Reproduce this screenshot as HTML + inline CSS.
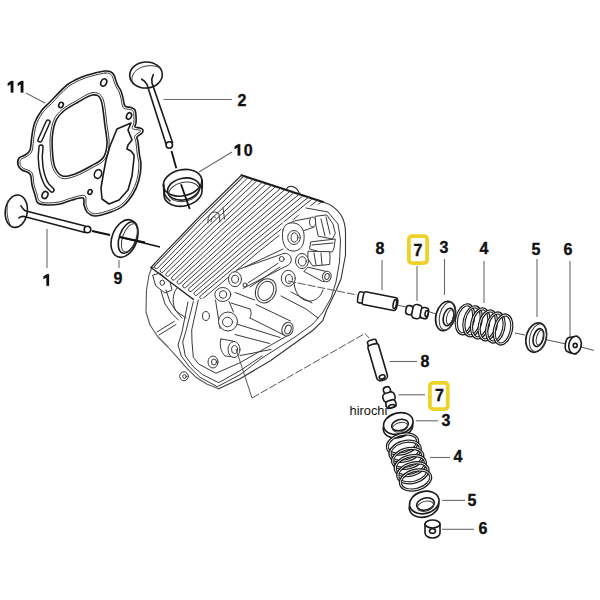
<!DOCTYPE html>
<html><head><meta charset="utf-8">
<style>
html,body{margin:0;padding:0;background:#fff;width:600px;height:600px;overflow:hidden}
svg{display:block}
.lb{font-family:"Liberation Sans",sans-serif;font-weight:bold;font-size:16px;fill:#111;stroke:#111;stroke-width:0.35;text-anchor:middle}
.ld{stroke:#6a6a6a;stroke-width:1.1;fill:none}
.k{stroke:#1a1a1a;stroke-width:1.6;fill:none;stroke-linejoin:round;stroke-linecap:round}
.kf{stroke:#1a1a1a;stroke-width:1.6;fill:#fff;stroke-linejoin:round;stroke-linecap:round}
.t{stroke:#3a3a3a;stroke-width:1;fill:none;stroke-linejoin:round;stroke-linecap:round}
.tf{stroke:#3a3a3a;stroke-width:1;fill:#fff;stroke-linejoin:round;stroke-linecap:round}
.ax{stroke:#555;stroke-width:1;fill:none}
.coil{stroke:#1a1a1a;stroke-width:3.2;fill:none}
.coilw{stroke:#fff;stroke-width:0.9;fill:none}
</style></head>
<body>
<svg width="600" height="600" viewBox="0 0 600 600">
<!-- labels -->
<g class="lb">
<text x="242" y="105.6">2</text>
<text x="248.3" y="156.0">0</text>
<text x="118" y="284.4">9</text>
<text x="380" y="254.4">8</text>
<text x="418" y="255.6">7</text>
<text x="444" y="253.4">3</text>
<text x="484" y="254.4">4</text>
<text x="536" y="255.4">5</text>
<text x="568" y="255.4">6</text>
<text x="425" y="367.4">8</text>
<text x="439.5" y="401.2">7</text>
<text x="446" y="426.4">3</text>
<text x="458" y="462.4">4</text>
<text x="472" y="506.4">5</text>
<text x="483" y="534.4">6</text>
</g>
<path d="M10.80 92.50 L10.80 84.20 L7.80 85.80 L7.80 83.30 L11.10 81.00 L13.30 81.00 L13.30 92.50Z M20.80 92.50 L20.80 84.20 L17.80 85.80 L17.80 83.30 L21.10 81.00 L23.30 81.00 L23.30 92.50Z M46.50 285.80 L46.50 277.40 L43.50 279.00 L43.50 276.50 L46.80 274.20 L49.00 274.20 L49.00 285.80Z M237.70 155.50 L237.70 147.50 L234.70 149.10 L234.70 146.60 L238.00 144.30 L240.20 144.30 L240.20 155.50Z" fill="#111" stroke="#111" stroke-width="0.3" stroke-linejoin="round"/>
<!-- leaders -->
<g class="ld">
<path d="M26 93L45 103"/>
<path d="M163.5 99.5H232"/>
<path d="M199 172L232 152"/>
<path d="M47 229V268"/>
<path d="M119 260V268"/>
<path d="M382 260V290"/>
<path d="M417 266V301"/>
<path d="M444.5 259V295"/>
<path d="M484 261V303"/>
<path d="M537 259V317"/>
<path d="M570 261V337"/>
<path d="M389.5 361.5H417"/>
<path d="M398.5 394.8H425"/>
<path d="M415.8 420.8H438"/>
<path d="M430 457.5H450"/>
<path d="M442 500.4H465"/>
<path d="M442 529.3H474"/>
</g>
<!-- yellow boxes -->
<rect x="408.9" y="236.1" width="18.2" height="27" rx="3" fill="none" stroke="#efd228" stroke-width="3.8"/>
<rect x="429.9" y="382.9" width="17.9" height="26.2" rx="3" fill="none" stroke="#efd228" stroke-width="3.8"/>

<!-- gasket 11 -->
<g class="k">
<path d="M105.0 71.0 C107.5 70.8 108.5 70.8 110.0 71.5 C111.5 72.2 113.0 73.4 114.0 75.0 C115.0 76.6 115.3 79.2 116.0 81.0 C116.7 82.8 117.2 84.3 118.0 86.0 C118.8 87.7 120.2 89.0 121.0 91.0 C121.8 93.0 122.3 95.5 123.0 98.0 C123.7 100.5 123.7 104.4 125.0 106.0 C126.3 107.6 129.3 106.8 131.0 107.5 C132.7 108.2 134.2 108.6 135.0 110.0 C135.8 111.4 135.8 113.8 136.0 116.0 C136.2 118.2 136.2 121.2 136.0 123.0 C135.8 124.8 134.3 126.2 135.0 127.0 C135.7 127.8 138.7 127.5 140.0 128.0 C141.3 128.5 142.7 129.2 143.0 130.0 C143.3 130.8 143.0 131.8 142.0 133.0 C141.0 134.2 137.7 135.5 137.0 137.0 C136.3 138.5 137.6 139.0 138.0 142.0 C138.4 145.0 139.0 151.2 139.5 155.0 C140.0 158.8 141.1 160.8 141.0 165.0 C140.9 169.2 140.3 175.2 139.0 180.0 C137.7 184.8 135.7 189.7 133.0 194.0 C130.3 198.3 126.7 203.0 123.0 206.0 C119.3 209.0 115.7 210.3 111.0 212.0 C106.3 213.7 99.0 216.0 95.0 216.0 C91.0 216.0 88.8 213.8 87.0 212.0 C85.2 210.2 84.7 207.3 84.0 205.0 C83.3 202.7 85.0 198.8 83.0 198.0 C81.0 197.2 75.8 199.0 72.0 200.0 C68.2 201.0 64.0 203.2 60.0 204.0 C56.0 204.8 51.7 205.2 48.0 205.0 C44.3 204.8 40.2 204.7 38.0 203.0 C35.8 201.3 36.0 198.0 35.0 195.0 C34.0 192.0 32.8 188.5 32.0 185.0 C31.2 181.5 31.7 176.5 30.0 174.0 C28.3 171.5 24.0 171.5 22.0 170.0 C20.0 168.5 18.5 167.0 18.0 165.0 C17.5 163.0 17.8 159.7 19.0 158.0 C20.2 156.3 23.2 156.3 25.0 155.0 C26.8 153.7 28.8 153.3 30.0 150.0 C31.2 146.7 31.2 139.7 32.0 135.0 C32.8 130.3 33.3 126.2 35.0 122.0 C36.7 117.8 39.5 113.3 42.0 110.0 C44.5 106.7 45.8 106.2 50.0 102.0 C54.2 97.8 61.7 89.2 67.0 85.0 C72.3 80.8 77.3 79.0 82.0 77.0 C86.7 75.0 91.2 74.0 95.0 73.0 C98.8 72.0 102.5 71.2 105.0 71.0Z"/>
<path class="t" d="M105.1 73.1 C107.4 72.9 107.9 73.0 109.1 73.5 C110.3 74.0 111.4 74.8 112.2 76.2 C113.0 77.6 113.4 79.9 114.0 81.7 C114.7 83.5 115.3 85.2 116.1 86.9 C117.0 88.6 118.2 89.9 119.1 91.8 C119.9 93.8 120.3 95.9 121.0 98.5 C121.7 101.2 121.7 105.9 123.3 107.7 C124.8 109.6 128.5 108.9 130.2 109.5 C131.8 110.0 132.5 110.2 133.1 111.3 C133.7 112.4 133.8 114.3 133.9 116.2 C134.0 118.1 134.1 120.7 133.9 122.7 C133.7 124.8 131.5 127.4 132.4 128.6 C133.3 129.8 137.8 129.6 139.2 130.0 C140.5 130.3 140.3 130.6 140.5 130.9 C140.7 131.2 141.2 130.9 140.2 131.7 C139.2 132.6 135.4 134.4 134.7 136.2 C134.0 137.9 135.5 139.1 135.9 142.3 C136.4 145.5 136.9 151.5 137.4 155.3 C137.9 159.1 139.0 161.0 138.9 165.0 C138.8 169.0 138.2 174.8 137.0 179.4 C135.7 184.1 133.7 188.7 131.2 192.9 C128.6 197.0 125.2 201.5 121.7 204.3 C118.2 207.2 114.7 208.4 110.3 210.0 C105.9 211.6 98.9 213.7 95.2 213.8 C91.6 213.8 90.2 212.0 88.6 210.5 C87.1 208.9 86.7 206.9 86.0 204.4 C85.4 201.9 87.2 196.6 84.8 195.5 C82.3 194.5 75.7 196.9 71.5 198.0 C67.3 199.0 63.5 201.1 59.6 201.9 C55.7 202.7 51.5 203.0 48.1 202.9 C44.8 202.8 41.4 202.6 39.6 201.2 C37.7 199.7 37.9 197.1 37.0 194.3 C36.1 191.6 34.9 188.1 34.0 184.5 C33.2 180.9 33.7 175.3 31.9 172.6 C30.1 169.9 25.3 169.7 23.4 168.3 C21.4 167.0 20.6 165.9 20.2 164.4 C19.8 162.9 19.9 160.7 20.9 159.4 C21.9 158.1 24.4 158.1 26.2 156.7 C28.1 155.3 30.7 154.5 32.0 151.0 C33.3 147.4 33.2 140.1 34.1 135.4 C34.9 130.7 35.4 126.8 37.0 122.8 C38.6 118.8 41.3 114.5 43.7 111.3 C46.1 108.1 47.4 107.6 51.5 103.5 C55.6 99.4 63.0 90.8 68.3 86.7 C73.5 82.6 78.3 80.9 82.8 78.9 C87.4 77.0 91.8 76.0 95.5 75.0 C99.2 74.1 102.8 73.4 105.1 73.1Z"/>
<path d="M92.5 95.0 C96.4 94.6 98.9 94.8 101.0 100.0 C103.1 105.2 104.0 118.7 105.0 126.0 C106.0 133.3 107.3 138.7 107.0 144.0 C106.7 149.3 105.7 154.3 103.0 158.0 C100.3 161.7 95.7 163.3 91.0 166.0 C86.3 168.7 79.8 172.3 75.0 174.0 C70.2 175.7 65.8 177.1 62.5 176.0 C59.2 174.9 56.7 171.4 55.0 167.5 C53.3 163.6 52.9 157.9 52.5 152.5 C52.1 147.1 51.9 140.4 52.5 135.0 C53.1 129.6 54.4 124.0 56.2 120.0 C58.1 116.0 60.2 113.9 63.8 111.0 C67.3 108.1 72.7 105.2 77.5 102.5 C82.3 99.8 88.6 95.4 92.5 95.0Z"/>
<path class="t" d="M92.6 92.6 C97.0 92.3 100.5 93.2 102.9 98.7 C105.3 104.2 106.0 118.1 107.1 125.7 C108.1 133.3 109.5 138.6 109.1 144.2 C108.8 149.8 107.7 155.4 104.8 159.3 C102.0 163.3 96.9 165.0 92.1 167.8 C87.2 170.6 80.7 174.3 75.7 176.0 C70.6 177.8 65.5 179.5 61.7 178.3 C57.9 177.0 54.9 172.7 53.0 168.4 C51.1 164.2 50.8 158.3 50.4 152.7 C50.0 147.1 49.7 140.3 50.4 134.7 C51.1 129.1 52.3 123.2 54.3 119.0 C56.3 114.8 58.7 112.5 62.4 109.4 C66.0 106.3 71.4 103.5 76.5 100.7 C81.5 97.9 88.2 92.9 92.6 92.6Z"/>
<path d="M131.0 123.0 L117.0 129.0 L110.0 146.0 L106.0 160.0 L103.0 176.0 L101.0 188.0 L102.0 199.0 L109.0 204.0 L119.0 200.0 L128.0 190.0 L132.0 176.0 L134.0 158.0 L134.0 155.0 L131.0 151.0 L127.0 149.0 L128.0 145.0 L132.0 140.0 L130.0 135.0 L128.0 130.0Z"/>
<ellipse cx="103.75" cy="82.5" rx="2.8" ry="3.8" transform="rotate(25 103.75 82.5)"/>
<ellipse cx="61" cy="105" rx="2.2" ry="2.8" transform="rotate(25 61 105)"/>
<ellipse cx="129" cy="116" rx="2.4" ry="3.4" transform="rotate(25 129 116)"/>
<ellipse cx="98" cy="174" rx="3.5" ry="4.5" transform="rotate(25 98 174)"/>
<ellipse cx="90" cy="192" rx="2" ry="2.5" transform="rotate(25 90 192)"/>
<ellipse cx="45" cy="195" rx="2.8" ry="3.6" transform="rotate(25 45 195)"/>
</g>
<path d="M48 122L40 140" stroke="#1a1a1a" stroke-width="5.5" stroke-linecap="round" fill="none"/><path d="M48 122L40 140" stroke="#fff" stroke-width="2.6" stroke-linecap="round" fill="none"/>
<path d="M41 147C39 160 41 175 47 185L52 190" stroke="#1a1a1a" stroke-width="5.5" stroke-linecap="round" fill="none"/><path d="M41 147C39 160 41 175 47 185L52 190" stroke="#fff" stroke-width="2.6" stroke-linecap="round" fill="none"/>
<!-- valve 1 -->
<g class="k">
<ellipse cx="16.3" cy="211.2" rx="11" ry="16.3" transform="rotate(8 16.3 211.2)"/>
<path d="M21 205.8C23 209 24.5 210.5 26 211L85 226"/>
<path d="M18.8 217.8C21 216.2 23.5 216 26 217L85 232.5"/>
<circle class="kf" cx="87.5" cy="229.5" r="3.3"/>
</g>
<path class="t" d="M8 201C6 210 7 220 11 226"/>
<path d="M92 231L110 235" stroke="#111" stroke-width="1.8"/>
<path d="M119.6 237L160 247" stroke="#111" stroke-width="1.8"/>
<!-- ring 9 -->
<g class="k">
<ellipse cx="124.5" cy="238.5" rx="12.5" ry="19.5" transform="rotate(20 124.5 238.5)"/>
<ellipse cx="128" cy="237.5" rx="8.5" ry="16.5" transform="rotate(20 128 237.5)"/>
</g>
<ellipse class="t" cx="129.5" cy="237.8" rx="6.8" ry="14.8" transform="rotate(20 129.5 237.8)"/>
<path d="M119.6 237L145 242.5" stroke="#111" stroke-width="1.8"/>

<!-- valve 2 -->
<g class="k">
<ellipse cx="146" cy="75" rx="16.3" ry="13" transform="rotate(-3 146 75)"/>
<path d="M141.7 79.2C144 80.5 146 82 147 84.5L166 144"/>
<path d="M153.3 74.6C152 77 151.5 80 152 83L172.5 142.5"/>
<circle class="kf" cx="169.3" cy="145" r="3.2"/>
</g>
<path class="t" d="M132 81C131 74 136 68 146 66C152 65 157 66 160 68"/>
<path d="M171.5 151L176.3 168.3" stroke="#111" stroke-width="1.8"/>
<!-- ring 10 -->
<g class="k">
<ellipse class="kf" cx="183" cy="192.5" rx="19.3" ry="13.5" transform="rotate(-12 183 192.5)"/>
<path d="M163.6 184.5L163.8 192M202.2 180L202.3 188" />
<ellipse class="kf" cx="182.6" cy="182.8" rx="19.5" ry="13" transform="rotate(-12 182.6 182.8)"/>
<path d="M164 185C163 191 165 197 170 201" fill="none"/>
<ellipse cx="183.7" cy="189" rx="16.3" ry="10.8" transform="rotate(-12 183.7 189)"/>
</g>
<ellipse class="t" cx="184" cy="191.8" rx="15.3" ry="9.5" transform="rotate(-12 184 191.8)"/>
<path d="M181 184.3L189.7 209" stroke="#111" stroke-width="1.8"/>

<!-- cylinder head -->
<g class="k">
<path d="M241.5 175.3L323 202" stroke-width="2.1"/>
<path d="M286.5 189.5C288 185 296 184.5 299.5 193.5" stroke-width="1.1"/>
<path d="M323 202C330 204 337 209 341 215C344 220 345.5 226 345.5 233L345.5 255L341 279L334.5 294L326.7 310L322.7 320.7L313.3 330L270 361L240 378.7L218.7 388.7" stroke-width="1.1" stroke="#333"/>
<path d="M218.7 388.7L206.7 384L196 377.3L185.3 366.7L177.3 357.3L168 347L158 337L150 325L146 312L146.5 290L149 275L152.5 266" stroke="#555" stroke-width="1.1"/>
<path d="M241.5 175.3Q194.8 220.0 151.0 267.5" stroke="#333" stroke-width="1.2"/>
<path d="M243.0 176.5Q196.5 221.0 152.8 268.3" stroke="#555" stroke-width="0.9"/>
<path d="M151 267.5L193.5 299.5" stroke-width="1.3"/>
</g>
<g class="t">
<path d="M306 208L328 212L338 224L340.5 240L339.5 262L336 282L331 298L323 312L313 324L295 337L262 358L240 374.7L217.3 386.7L200 377.3L189.3 366.7L181.3 356L178 345L182 332L188 302"/>
<path d="M193.3 301.7L185.8 331.7L182.7 342L185.3 356L193.3 366.7L202.7 374.7L218.7 382.7L240 370.7L262 356"/>
<path d="M198.3 300L191.7 330L192 342L193.3 357.3L198.7 364L216 373.3L240 362.7L292 333"/>
</g>
<clipPath id="topface"><path d="M238 172L323 199L322 204L305 207L296 219L283 222L278 240L281 249L252 262L240 270L225 282L215 290L205 298L195 301L149 270Z"/></clipPath>
<path class="t" clip-path="url(#topface)" d="M244.8 175.5Q198.4 219.2 154.8 265.8A1.9 1.9 0 0 0 157.4 268.4Q201.0 221.9 247.4 178.1 M254.0 178.5Q205.8 222.6 160.4 269.6A1.9 1.9 0 0 0 163.0 272.2Q208.4 225.3 256.5 181.2 M263.1 181.5Q213.3 226.0 166.1 273.4A1.9 1.9 0 0 0 168.6 276.1Q215.8 228.7 265.7 184.2 M272.3 184.6Q220.7 229.4 171.8 277.2A1.9 1.9 0 0 0 174.3 279.9Q223.2 232.1 274.8 187.3 M281.5 187.6Q228.1 232.8 177.4 281.0A1.9 1.9 0 0 0 179.9 283.7Q230.6 235.5 284.0 190.3 M290.7 190.6Q235.6 236.2 183.1 284.8A1.9 1.9 0 0 0 185.5 287.6Q238.0 239.0 293.1 193.4 M299.9 193.6Q243.0 239.6 188.8 288.6A1.9 1.9 0 0 0 191.2 291.4Q245.4 242.4 302.3 196.4 M309.1 196.6Q250.5 243.0 194.4 292.4A1.9 1.9 0 0 0 196.8 295.2Q252.8 245.8 311.4 199.5 M318.2 199.7Q257.9 246.4 200.1 296.2A1.9 1.9 0 0 0 202.4 299.0Q260.2 249.2 320.6 202.5"/>
<!-- head interior -->
<g class="t">
<!-- boss A + tube -->
<path d="M286 225L294.2 221L311.2 217.7M300 232L314 227"/>
<path class="tf" d="M283 230C281 240 284 250 292 251C301 252 305 244 304 234C303 226 297 222 290 223C286 224 284 226 283 230Z"/>
<ellipse cx="294" cy="237.5" rx="6.3" ry="7"/>
<ellipse cx="294.5" cy="237.5" rx="3.4" ry="4.6"/>
<ellipse class="tf" cx="312.7" cy="222" rx="3.2" ry="5"/>
<!-- mechanism -->
<path class="tf" d="M315.5 216.3L326.8 214.9L333 224L335.3 233.3L332.5 239L318.3 236.2L316 226Z"/>
<path d="M321 219L325 236M326 217L330 234"/>
<path class="tf" d="M311.2 241.8L335.3 239L334 248L332.5 251.7L324 253.2L309.8 249Z"/>
<path d="M312 245L333 243"/>
<path class="tf" d="M308.4 251.3L329.7 251.7L330 258L329.7 264.5L312.7 266L308 259Z"/>
<path d="M314 253L316 265M321 253L322 265"/>
<!-- boss B + tube -->
<path class="tf" d="M308.4 267.3L326.8 271.6L327 281L322.6 281.5L304.2 271.6Z"/>
<ellipse class="tf" cx="302" cy="261" rx="6.5" ry="7.5"/>
<ellipse cx="302.3" cy="261.3" rx="4" ry="4.6"/>
<ellipse class="tf" cx="326.8" cy="276.5" rx="4.3" ry="5.3" transform="rotate(15 326.8 276.5)"/>
<ellipse cx="327" cy="276.5" rx="2.2" ry="3" transform="rotate(15 327 276.5)"/>
<!-- slot bar -->
<path d="M236.7 270L281.7 254.2A5.5 5.5 0 0 1 288.3 265L243.3 288.3"/>
<path d="M248 283L278 263.3M250 287L280 267"/>
<path d="M245 267L283 249"/>
<ellipse class="tf" cx="235" cy="279.2" rx="6.5" ry="7.5"/>
<ellipse cx="235" cy="279.2" rx="3.5" ry="4"/>
<circle cx="245" cy="285" r="2"/>
<circle cx="281.7" cy="259" r="2.5"/>
<!-- big oval -->
<ellipse cx="265.8" cy="290.8" rx="10" ry="12.5" transform="rotate(25 265.8 290.8)"/>
<ellipse cx="265.8" cy="290.8" rx="7.5" ry="10" transform="rotate(25 265.8 290.8)"/>
<!-- boss E -->
<ellipse class="tf" cx="288.3" cy="278.3" rx="7" ry="8"/>
<ellipse cx="289" cy="279" rx="3.5" ry="4.5"/>
<path d="M294 283C295 295 303 302 311 301C317 300 321 296 323 290"/>
<path d="M281 296L306 309L318 318M291 292L312 303"/>
<!-- hole F + tube -->
<path d="M235 292.5L254.5 300M231 303L250 309"/>
<ellipse class="tf" cx="222.8" cy="294.5" rx="8" ry="7"/>
<ellipse cx="223" cy="294.5" rx="3.6" ry="3.8"/>
<!-- big cylinder H -->
<path d="M256 304.5L290.5 321M250 318L283 334.5M250 309C252 312 251 316 250 318"/>
<ellipse class="tf" cx="287.5" cy="329.2" rx="5.5" ry="7" transform="rotate(20 287.5 329.2)"/>
<ellipse cx="288" cy="329.5" rx="3" ry="4.5" transform="rotate(20 288 329.5)"/>
<path d="M236.5 324L280 337.5M235 334.5L269.5 343.5"/>
<!-- arm & boss G -->
<path d="M215.5 300L220 328.5M229 301.5L233.5 312"/>
<ellipse class="tf" cx="228" cy="321.5" rx="9.5" ry="9.5"/>
<ellipse cx="227.5" cy="322" rx="5" ry="4.8"/>
<!-- lower boss -->
<path class="tf" d="M221 339L233 341L236 357L225 356C221 352 219 345 221 339Z"/>
<ellipse class="tf" cx="234" cy="349.5" rx="6" ry="8"/>
<ellipse cx="234.5" cy="349.5" rx="3" ry="4"/>
<path d="M240 355.5C250 354 262 351 271 349.5"/>
<!-- bolts -->
<ellipse class="tf" cx="213" cy="362" rx="5" ry="6"/>
<ellipse cx="214" cy="362" rx="2.5" ry="3"/>
<ellipse class="tf" cx="184" cy="376.3" rx="4.3" ry="4.5"/>
<circle cx="184.5" cy="376.5" r="1.8"/>
<ellipse class="tf" cx="206" cy="316" rx="3.5" ry="4.5"/>
<path d="M153 275L160 273L170 282L172 290L165 293L156 286Z"/>
<ellipse cx="162.3" cy="282.7" rx="2.3" ry="2.6"/>
<path d="M161 291L165 304L171.7 313.3L178.3 320M166 290L170 302L176 311L182 318"/>
<path d="M177 288C172 294 172 304 176 311L186 318"/>
<path d="M157 332L174.3 321.3M159 335L176 324.5"/>
<!-- fin bump -->
<path d="M208 223C207 214 214 209 219 214L220 222M211 222C211 217 214 215 216 218"/>
<path d="M223 208L224.5 219"/>
</g>


<!-- axis lines right -->
<g class="ax">
<path d="M288 281L357 295" stroke-dasharray="8 2"/>
<path d="M397 305L406 307"/>
<path d="M428.5 311.5L436 314"/>
<path d="M515 333L525 335"/>
<path d="M546 339.7L566 344"/>
<path d="M580 346.8L594 350.4"/>
<path d="M236 349L252 398"/><path d="M252 398L365 333.5L369 338" stroke-dasharray="8 2"/>
</g>

<!-- part 8 upper -->
<g class="kf" transform="translate(358.5 297) rotate(11)">
<path d="M6 -5.5L1 -5.5A1.6 5.5 0 0 0 1 5.5L6 5.5"/>
<path d="M6 -6.5L37 -6.5A2.6 6.5 0 0 1 37 6.5L6 6.5A1.6 6.5 0 0 1 6 -6.5Z"/>
<ellipse cx="37" cy="0" rx="1.6" ry="4.5"/>
</g>
<!-- part 7 upper -->
<g class="kf" transform="translate(406 309.5) rotate(11)">
<rect x="0" y="-4.5" width="7" height="9" rx="3"/>
<rect x="6.5" y="-7" width="9" height="14" rx="3.5"/>
<rect x="15" y="-5.5" width="7.5" height="11" rx="3"/>
<ellipse cx="21" cy="0" rx="1.5" ry="3"/>
</g>
<!-- part 3 upper -->
<g class="kf">
<ellipse cx="445.5" cy="316" rx="9.5" ry="15" transform="rotate(15 445.5 316)"/>
<ellipse cx="447.5" cy="316" rx="7.8" ry="14.2" transform="rotate(15 447.5 316)" class="t"/>
<ellipse cx="448.5" cy="317" rx="5" ry="9" transform="rotate(15 448.5 317)"/>
<ellipse cx="450" cy="317" rx="3.2" ry="7.5" transform="rotate(15 450 317)" class="t"/>
</g>
<!-- spring 4 upper -->
<g>
<ellipse class="coil" cx="465.0" cy="319.3" rx="8.3" ry="14.8" transform="rotate(13 465.0 319.3)"/>
<ellipse class="coilw" cx="465.0" cy="319.3" rx="8.3" ry="14.8" transform="rotate(13 465.0 319.3)"/>
<ellipse class="coil" cx="472.6" cy="321.3" rx="8.3" ry="14.8" transform="rotate(13 472.6 321.3)"/>
<ellipse class="coilw" cx="472.6" cy="321.3" rx="8.3" ry="14.8" transform="rotate(13 472.6 321.3)"/>
<ellipse class="coil" cx="480.2" cy="323.4" rx="8.3" ry="14.8" transform="rotate(13 480.2 323.4)"/>
<ellipse class="coilw" cx="480.2" cy="323.4" rx="8.3" ry="14.8" transform="rotate(13 480.2 323.4)"/>
<ellipse class="coil" cx="487.8" cy="325.4" rx="8.3" ry="14.8" transform="rotate(13 487.8 325.4)"/>
<ellipse class="coilw" cx="487.8" cy="325.4" rx="8.3" ry="14.8" transform="rotate(13 487.8 325.4)"/>
<ellipse class="coil" cx="495.4" cy="327.5" rx="8.3" ry="14.8" transform="rotate(13 495.4 327.5)"/>
<ellipse class="coilw" cx="495.4" cy="327.5" rx="8.3" ry="14.8" transform="rotate(13 495.4 327.5)"/>
<ellipse class="coil" cx="503.0" cy="329.5" rx="8.3" ry="14.8" transform="rotate(13 503.0 329.5)"/>
<ellipse class="coilw" cx="503.0" cy="329.5" rx="8.3" ry="14.8" transform="rotate(13 503.0 329.5)"/>
</g>
<!-- part 5 upper -->
<g class="kf">
<ellipse cx="536.2" cy="337.6" rx="10" ry="15" transform="rotate(15 536.2 337.6)"/>
<ellipse cx="538" cy="337.6" rx="8.2" ry="14.2" transform="rotate(15 538 337.6)" class="t"/>
<ellipse cx="538.4" cy="337.6" rx="5" ry="9.2" transform="rotate(15 538.4 337.6)"/>
<ellipse cx="539.8" cy="337.6" rx="3.2" ry="7.6" transform="rotate(15 539.8 337.6)" class="t"/>
</g>
<!-- part 6 upper -->
<g class="kf">
<path d="M577.3 336.2L568.8 337.5C565 339 564.5 348 566 350.5C567 352 570 353 576 354"/>
<ellipse cx="575" cy="345" rx="6.2" ry="8.8" transform="rotate(10 575 345)"/>
<circle cx="575.2" cy="345.4" r="2"/>
</g>
<!-- part 8 lower -->
<g class="kf" transform="translate(371.5 340.5) rotate(-16.3)">
<path d="M-4.5 6L-4.5 1A4.5 1.6 0 0 1 4.5 1L4.5 6"/>
<path d="M-5.5 6L-5.5 38A5.5 3.5 0 0 0 5.5 38L5.5 6A5.5 2 0 0 0 -5.5 6Z"/>
<ellipse cx="0" cy="38" rx="3" ry="2"/>
</g>
<!-- part 7 lower -->
<g class="kf" transform="translate(386 387) rotate(-16.3)">
<rect x="-3.5" y="0" width="7" height="7" rx="3"/>
<rect x="-6" y="6" width="12" height="9" rx="3.5"/>
<rect x="-5" y="14" width="10" height="7.5" rx="3"/>
<ellipse cx="0" cy="20" rx="3" ry="1.5"/>
</g>
<!-- part 3 lower -->
<g class="kf">
<ellipse cx="398" cy="427" rx="15" ry="10.5" transform="rotate(-15 398 427)"/>
<ellipse cx="398.3" cy="423.5" rx="15" ry="10.5" transform="rotate(-15 398.3 423.5)"/>
<ellipse cx="400" cy="425" rx="8.5" ry="5.5" transform="rotate(-15 400 425)"/>
<ellipse class="t" cx="400" cy="427.2" rx="7.8" ry="4.6" transform="rotate(-15 400 427.2)"/>
</g>
<g>
<ellipse class="coil" cx="402.5" cy="444.0" rx="15.5" ry="9.5" transform="rotate(-16 402.5 444.0)"/>
<ellipse class="coilw" cx="402.5" cy="444.0" rx="15.5" ry="9.5" transform="rotate(-16 402.5 444.0)"/>
<ellipse class="coil" cx="405.1" cy="451.2" rx="15.5" ry="9.5" transform="rotate(-16 405.1 451.2)"/>
<ellipse class="coilw" cx="405.1" cy="451.2" rx="15.5" ry="9.5" transform="rotate(-16 405.1 451.2)"/>
<ellipse class="coil" cx="407.7" cy="458.4" rx="15.5" ry="9.5" transform="rotate(-16 407.7 458.4)"/>
<ellipse class="coilw" cx="407.7" cy="458.4" rx="15.5" ry="9.5" transform="rotate(-16 407.7 458.4)"/>
<ellipse class="coil" cx="410.3" cy="465.6" rx="15.5" ry="9.5" transform="rotate(-16 410.3 465.6)"/>
<ellipse class="coilw" cx="410.3" cy="465.6" rx="15.5" ry="9.5" transform="rotate(-16 410.3 465.6)"/>
<ellipse class="coil" cx="412.9" cy="472.8" rx="15.5" ry="9.5" transform="rotate(-16 412.9 472.8)"/>
<ellipse class="coilw" cx="412.9" cy="472.8" rx="15.5" ry="9.5" transform="rotate(-16 412.9 472.8)"/>
<ellipse class="coil" cx="415.5" cy="480.0" rx="15.5" ry="9.5" transform="rotate(-16 415.5 480.0)"/>
<ellipse class="coilw" cx="415.5" cy="480.0" rx="15.5" ry="9.5" transform="rotate(-16 415.5 480.0)"/>
</g>
<!-- part 5 lower -->
<g class="kf">
<ellipse cx="424" cy="506" rx="15" ry="11" transform="rotate(-15 424 506)"/>
<ellipse cx="424.3" cy="502.5" rx="15" ry="11" transform="rotate(-15 424.3 502.5)"/>
<ellipse cx="425.5" cy="504" rx="9" ry="6" transform="rotate(-15 425.5 504)"/>
<ellipse class="t" cx="425.5" cy="506.2" rx="8.3" ry="5" transform="rotate(-15 425.5 506.2)"/>
</g>
<!-- part 6 lower -->
<g class="kf">
<path d="M425 524L425 533A7.5 5 0 0 0 440 533L440 524"/>
<ellipse cx="432.5" cy="524" rx="7.5" ry="4"/>
<ellipse cx="432.5" cy="531" rx="3" ry="2.3"/>
</g>
<text x="349.6" y="415" style="font-family:'Liberation Sans',sans-serif;font-size:12.8px;fill:#111">hirochi</text>
</svg>
</body></html>
